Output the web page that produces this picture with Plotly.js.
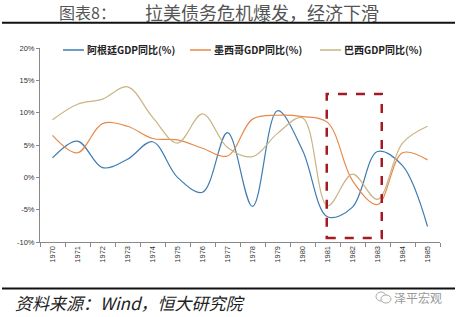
<!DOCTYPE html>
<html>
<head>
<meta charset="utf-8">
<script src="https://cdn.plot.ly/plotly-3.0.1.min.js"></script>
<style>
html,body{margin:0;padding:0;background:#fff;}
#chart{width:456px;height:317px;}
</style>
</head>
<body>
<div id="chart"></div>
<script>
const years = ['1970','1971','1972','1973','1974','1975','1976','1977','1978','1979','1980','1981','1982','1983','1984','1985'];
const argentina = [3.0, 5.6, 1.5, 2.8, 5.5, 0.0, -2.3, 6.9, -4.5, 10.3, 4.2, -6.1, -4.6, 4.0, 1.8, -7.6];
const mexico    = [6.5, 3.8, 8.3, 7.9, 6.0, 5.8, 4.5, 3.3, 9.0, 9.6, 9.4, 8.5, -0.5, -4.2, 3.8, 2.7];
const brazil    = [8.9, 11.3, 12.1, 14.0, 9.3, 5.3, 9.8, 4.6, 3.2, 6.8, 9.2, -4.4, 0.5, -3.4, 5.3, 7.9];
const seriesNames = ['阿根廷GDP同比(%)', '墨西哥GDP同比(%)', '巴西GDP同比(%)'];
const yTicks = [-10, -5, 0, 5, 10, 15, 20];

const cjk = '"Noto Sans CJK SC", "Noto Sans", sans-serif';
const colors = ['#3e7cb1', '#e8894a', '#c9b585'];
const series = [argentina, mexico, brazil];

const traces = series.map((s, i) => ({
  x: years, y: s, name: seriesNames[i], type: 'scatter', mode: 'lines',
  line: {color: colors[i], width: 1.2, shape: 'spline', smoothing: 1.0}
}));

// pixel -> paper helpers (plot area: x 40..440, y 48..242)
const px = v => (v - 40) / 400;
const py = v => (242 - v) / 194;

// manual legend positions (pixels)
const legX = [63, 190, 320];
const legY = 50;

const shapes = [
  {type: 'line', xref: 'paper', yref: 'paper', x0: px(2), x1: px(455), y0: py(22.7), y1: py(22.7),
   line: {color: '#111', width: 2}},
  {type: 'line', xref: 'paper', yref: 'paper', x0: px(2), x1: px(455), y0: py(288.5), y1: py(288.5),
   line: {color: '#111', width: 2}},
  {type: 'rect', xref: 'x', yref: 'y', x0: 10.97, x1: 13.17, y0: -9.4, y1: 12.9,
   line: {color: '#a31a22', width: 2.5, dash: 'dash'}},
  {type: 'circle', xref: 'paper', yref: 'paper', x0: px(376), x1: px(386), y0: py(301), y1: py(292),
   line: {color: '#aaa', width: 1}},
  {type: 'circle', xref: 'paper', yref: 'paper', x0: px(381), x1: px(391), y0: py(303), y1: py(295),
   line: {color: '#aaa', width: 1}, fillcolor: '#fff'}
];
const annotations = [
  {xref: 'paper', yref: 'paper', x: px(57), y: py(12), xanchor: 'left', yanchor: 'middle',
   text: '图表8：', showarrow: false, font: {family: cjk, size: 16, color: '#555'}},
  {xref: 'paper', yref: 'paper', x: px(143), y: py(12), xanchor: 'left', yanchor: 'middle',
   text: '拉美债务危机爆发，经济下滑', showarrow: false, font: {family: cjk, size: 18, color: '#555'}},
  {xref: 'paper', yref: 'paper', x: px(13), y: py(302), xanchor: 'left', yanchor: 'middle',
   text: '<i>资料来源：Wind，恒大研究院</i>', showarrow: false, font: {family: cjk, size: 17, color: '#222'}},
  {xref: 'paper', yref: 'paper', x: px(444), y: py(297), xanchor: 'right', yanchor: 'middle',
   text: '泽平宏观', showarrow: false, font: {family: cjk, size: 12, color: '#999'}}
];
seriesNames.forEach((n, i) => {
  shapes.push({type: 'line', xref: 'paper', yref: 'paper', x0: px(legX[i]), x1: px(legX[i] + 21),
    y0: py(legY), y1: py(legY), line: {color: colors[i], width: 1.5}});
  annotations.push({xref: 'paper', yref: 'paper', x: px(legX[i] + 22), y: py(legY),
    xanchor: 'left', yanchor: 'middle', text: '<b>' + n + '</b>', showarrow: false,
    font: {family: cjk, size: 10, color: '#222'}});
});

const layout = {
  width: 456, height: 317,
  margin: {l: 40, r: 16, t: 48, b: 75},
  paper_bgcolor: '#fff', plot_bgcolor: '#fff',
  showlegend: false,
  xaxis: {
    type: 'category', range: [-0.5, 15.5], tickangle: -90,
    tickson: 'boundaries', ticks: 'outside', ticklen: 4, tickcolor: '#888',
    showline: true, linecolor: '#888', linewidth: 1, showgrid: false, zeroline: false,
    tickfont: {family: '"Liberation Sans", Arial, sans-serif', size: 7.5, color: '#333'}
  },
  yaxis: {
    range: [-10, 20], tickvals: yTicks, ticktext: yTicks.map(v => v + '%'),
    ticks: 'outside', ticklen: 3, tickcolor: '#888',
    showline: true, linecolor: '#888', linewidth: 1, showgrid: false, zeroline: false,
    tickfont: {family: '"Liberation Sans", Arial, sans-serif', size: 7.5, color: '#333'}
  },
  shapes: shapes,
  annotations: annotations
};

Plotly.newPlot('chart', traces, layout, {displayModeBar: false, staticPlot: true});
</script>
</body>
</html>
